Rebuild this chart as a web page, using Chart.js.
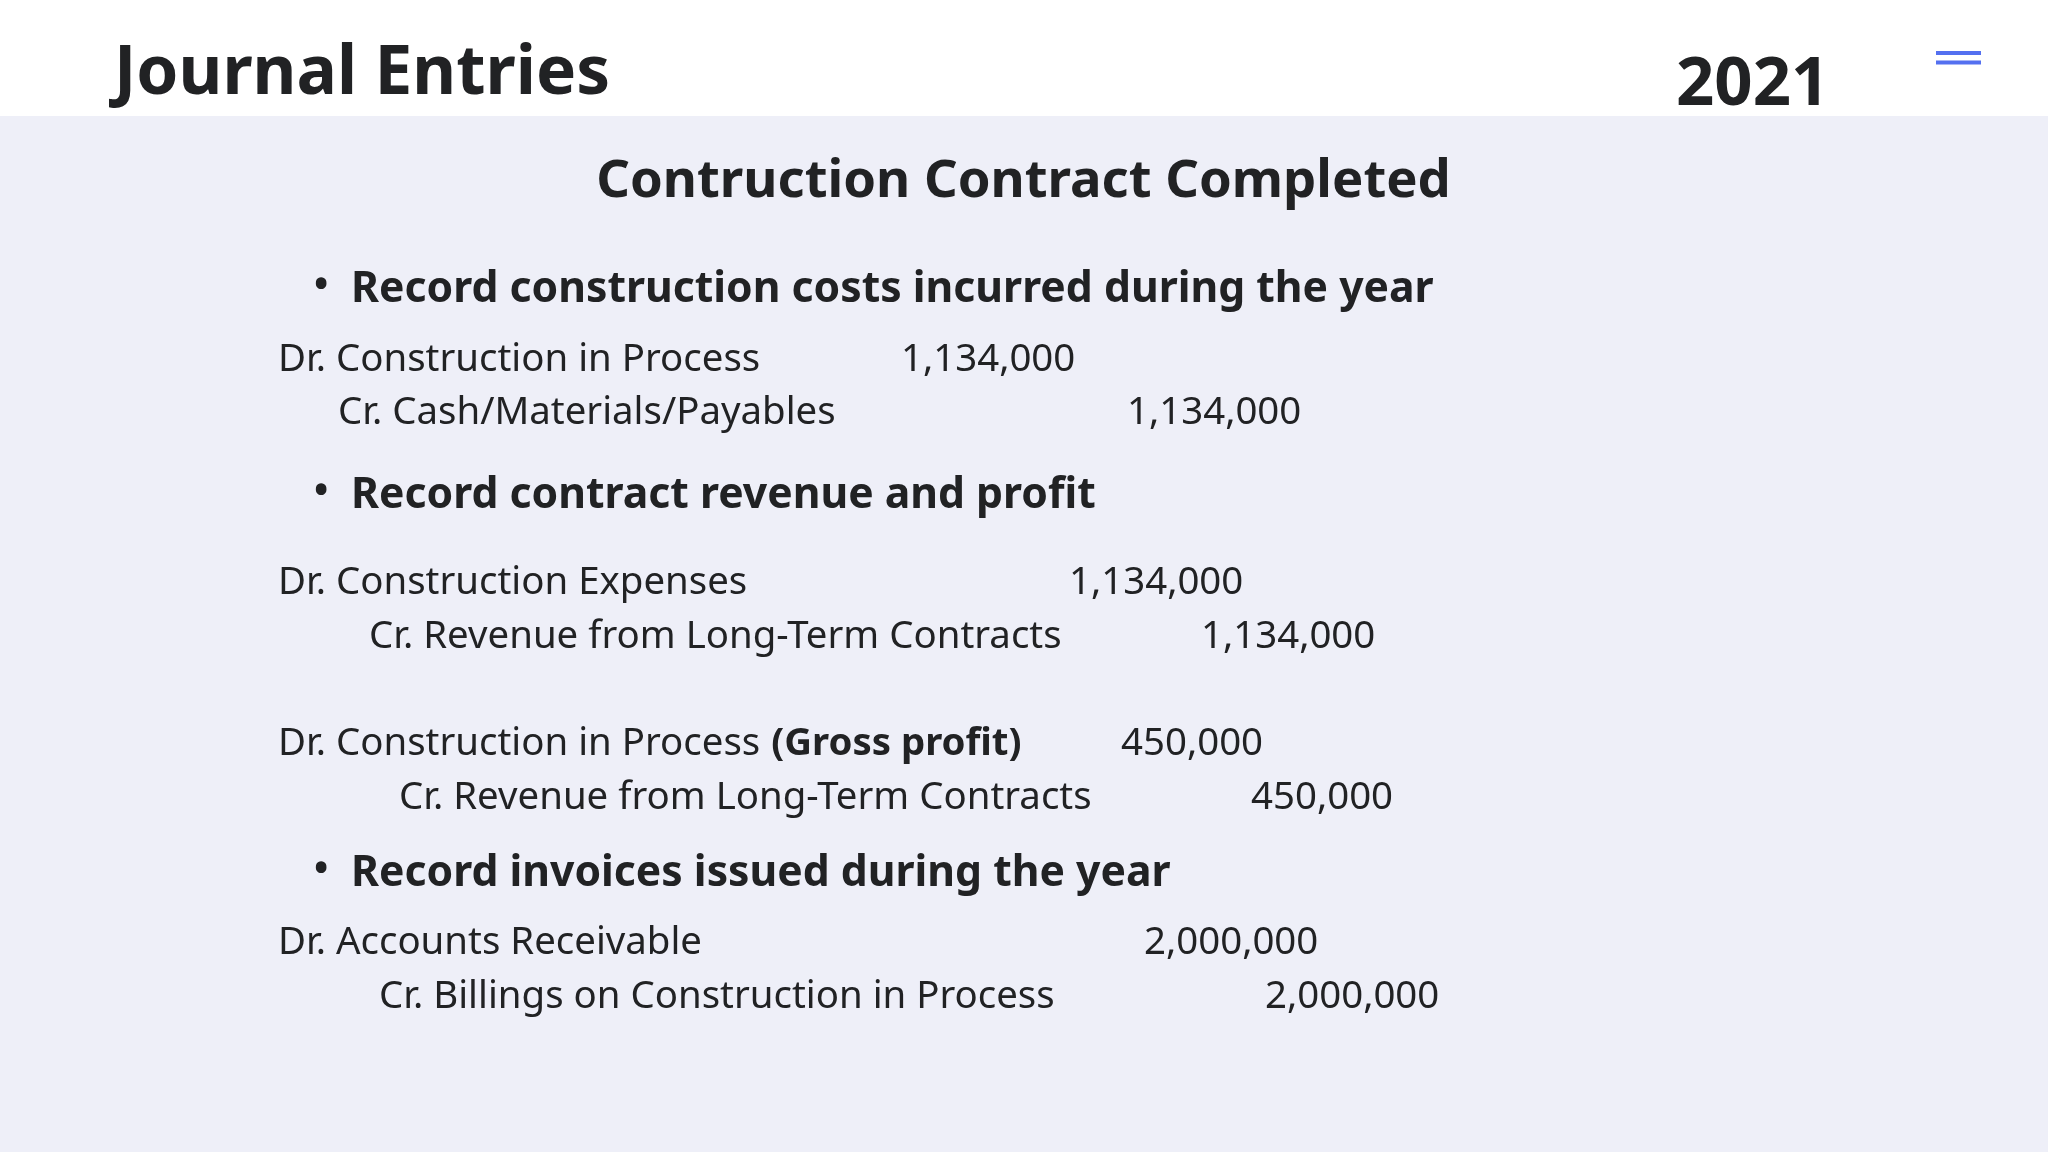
<!DOCTYPE html>
<html>
<head>
<meta charset="utf-8">
<title>Journal Entries</title>
<script src="https://cdn.jsdelivr.net/npm/chart.js@4"></script>
<style>
    html, body { margin: 0; padding: 0; background: #fff; }
    #wrap { width: 2048px; height: 1152px; }
</style>
</head>
<body>
<div id="wrap"><canvas id="slide"></canvas></div>
<script>
// slide text
const pageTitle = 'Journal Entries';
const pageYear = '2021';
const slideTitle = 'Contruction Contract Completed';
const headings = [
    'Record construction costs incurred during the year',
    'Record contract revenue and profit',
    'Record invoices issued during the year'
];
const accounts = [
    'Dr. Construction in Process',
    'Cr. Cash/Materials/Payables',
    'Dr. Construction Expenses',
    'Cr. Revenue from Long-Term Contracts',
    'Dr. Construction in Process',
    'Cr. Revenue from Long-Term Contracts',
    'Dr. Accounts Receivable',
    'Cr. Billings on Construction in Process'
];
const amounts = [1134000, 1134000, 1134000, 1134000, 450000, 450000, 2000000, 2000000];
const boldNote = '(Gross profit)';

// layout, in slide pixels
const accountX = [278, 338, 278, 369, 278, 399, 278, 379];
const amountX = [901, 1127, 1069, 1201, 1121, 1251, 1144, 1265];
const rowY = [370.5, 424, 594, 648, 755, 808.5, 954, 1008];
const headingY = [302, 507.5, 886];

const ink = '#212224';
const font = 'Noto Sans';

const textLayer = {
    id: 'textLayer',
    beforeDraw(chart) {
        const { ctx } = chart;
        const x = chart.scales.x, y = chart.scales.y;
        ctx.save();
        ctx.fillStyle = '#ffffff';
        ctx.fillRect(0, 0, 2048, 1152);
        ctx.fillStyle = '#eeeff8';
        ctx.fillRect(x.getPixelForValue(0), y.getPixelForValue(116), 2048, 1036);
        ctx.fillStyle = '#5470f0';
        ctx.fillRect(x.getPixelForValue(1936), y.getPixelForValue(51), 45, 4);
        ctx.fillRect(x.getPixelForValue(1936), y.getPixelForValue(60.5), 45, 4);
        ctx.restore();
    },
    afterDraw(chart) {
        const { ctx } = chart;
        const x = chart.scales.x, y = chart.scales.y;
        const put = (text, px, py, weight, size, align) => {
            ctx.font = weight + ' ' + size + 'px "' + font + '"';
            ctx.textAlign = align || 'left';
            ctx.textBaseline = 'alphabetic';
            ctx.fillText(text, x.getPixelForValue(px), y.getPixelForValue(py));
            return ctx.measureText(text).width;
        };
        ctx.save();
        ctx.fillStyle = ink;
        put(pageTitle, 114, 94, 'bold', 67.5);
        put(pageYear, 1676, 105, 'bold', 67);
        put(slideTitle, 1023.5, 197, 'bold', 52.6, 'center');
        headings.forEach((h, i) => {
            put('•', 314, headingY[i] - 5, 'bold', 38);
            put(h, 351, headingY[i], 'bold', 42.7);
        });
        accounts.forEach((a, i) => {
            const w = put(a, accountX[i], rowY[i], 'normal', 38.4);
            if (i === 4) put(boldNote, accountX[i] + w + 11, rowY[i], 'bold', 38.4);
            put(amounts[i].toLocaleString('en-US'), amountX[i], rowY[i], 'normal', 38.4);
        });
        ctx.restore();
    }
};

new Chart(document.getElementById('slide'), {
    type: 'scatter',
    data: {
        datasets: [{
            data: amounts.map((v, i) => ({ x: amountX[i], y: rowY[i] })),
            pointRadius: 0
        }]
    },
    options: {
        responsive: true,
        maintainAspectRatio: false,
        animation: false,
        layout: { padding: 0 },
        plugins: { legend: { display: false }, tooltip: { enabled: false } },
        scales: {
            x: { type: 'linear', min: 0, max: 2048, display: false },
            y: { type: 'linear', min: 0, max: 1152, reverse: true, display: false }
        }
    },
    plugins: [textLayer]
});
</script>
</body>
</html>
